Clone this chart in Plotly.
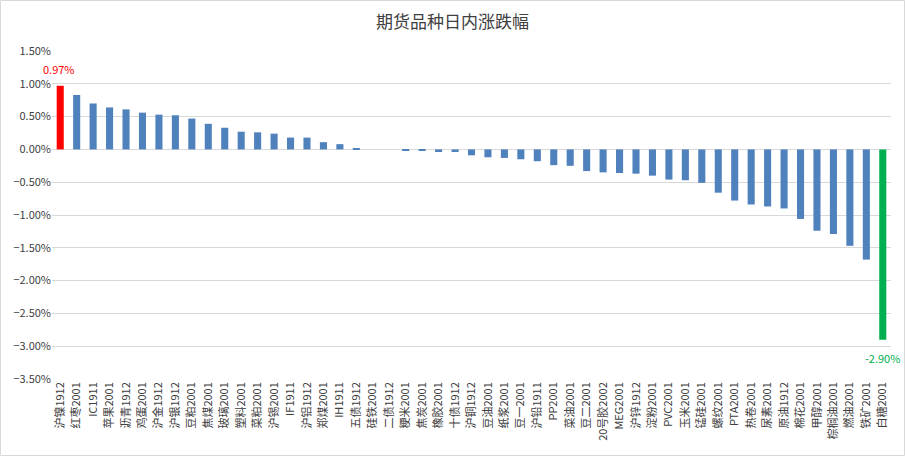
import plotly.graph_objects as go

categories = ["沪镍1912", "红枣2001", "IC1911", "苹果2001", "沥青1912", "鸡蛋2001", "沪金1912", "沪银1912",
              "豆粕2001", "焦煤2001", "玻璃2001", "塑料2001", "菜粕2001", "沪锡2001", "IF1911", "沪铝1912",
              "郑煤2001", "IH1911", "五债1912", "硅铁2001", "二债1912", "粳米2001", "焦炭2001", "橡胶2001",
              "十债1912", "沪铜1912", "豆油2001", "纸浆2001", "豆一2001", "沪铅1911", "PP2001", "菜油2001",
              "豆二2001", "20号胶2002", "MEG2001", "沪锌1912", "淀粉2001", "PVC2001", "玉米2001", "锰硅2001",
              "螺纹2001", "PTA2001", "热卷2001", "尿素2001", "原油1912", "棉花2001", "甲醇2001", "棕榈油2001",
              "燃油2001", "铁矿2001", "白糖2001"]

values_pct = [0.97, 0.83, 0.70, 0.64, 0.61, 0.56, 0.53, 0.52,
              0.47, 0.39, 0.33, 0.27, 0.26, 0.24, 0.18, 0.18,
              0.11, 0.08, 0.02, 0.00, 0.00, -0.02, -0.02, -0.04,
              -0.04, -0.09, -0.12, -0.13, -0.15, -0.18, -0.24, -0.25,
              -0.33, -0.35, -0.36, -0.37, -0.40, -0.46, -0.47, -0.51,
              -0.66, -0.78, -0.84, -0.87, -0.90, -1.06, -1.24, -1.29,
              -1.47, -1.68, -2.90]

values = [v / 100 for v in values_pct]
n = len(values)
imax = values.index(max(values))
imin = values.index(min(values))

colors = []
for i, v in enumerate(values):
    if i == imax:
        colors.append("#FF0000")
    elif i == imin:
        colors.append("#00B050")
    else:
        colors.append("#4F81BD")

fig = go.Figure(go.Bar(
    x=categories, y=values, marker=dict(color=colors, line=dict(width=0)),
    hoverinfo="x+y",
))

fig.add_annotation(x=categories[imax], y=values[imax], text=f"{values[imax]:.2%}",
                   showarrow=False, yanchor="bottom", yshift=7, xshift=-1,
                   font=dict(color="#FF0000", size=11, family="Noto Sans CJK SC"))
fig.add_annotation(x=categories[imin], y=values[imin], text=f"{values[imin]:.2%}",
                   showarrow=False, yanchor="top", yshift=-8,
                   font=dict(color="#00B050", size=11, family="Noto Sans CJK SC"))

W, H = 905, 456
ml, mr, mt, mb = 52, 14, 51, 77
pw, ph = W - ml - mr, H - mt - mb

fig.update_layout(
    width=W, height=H,
    margin=dict(l=ml, r=mr, t=mt, b=mb),
    paper_bgcolor="white", plot_bgcolor="white",
    bargap=0.57,
    showlegend=False,
    font=dict(family="Noto Sans CJK SC", size=11, color="#404040"),
    title=dict(text="期货品种日内涨跌幅", x=0.5, xanchor="center", y=1 - 22 / H, yanchor="middle",
               font=dict(size=17, color="#404040", family="Noto Sans CJK SC")),
    xaxis=dict(tickangle=-90, showgrid=False, showline=False, ticks="",
               range=[-0.5, n - 0.5],
               tickfont=dict(size=11, color="#404040"), automargin=False),
    yaxis=dict(range=[-0.035, 0.015], dtick=0.005, tickformat=".2%",
               showgrid=True, gridcolor="#D9D9D9", gridwidth=1,
               zeroline=True, zerolinecolor="#D9D9D9", zerolinewidth=1,
               showline=False, ticks="", tickfont=dict(size=11, color="#404040"),
               automargin=False),
)

fig.add_shape(type="rect", xref="paper", yref="paper",
              x0=(0.5 - ml) / pw, x1=(W - 0.5 - ml) / pw,
              y0=-(mb - 0.5) / ph, y1=1 + (mt - 0.5) / ph,
              line=dict(color="#D9D9D9", width=1), fillcolor="rgba(0,0,0,0)", layer="below")

fig.write_html("out.html", config={"displayModeBar": False},
               post_script="document.body.style.margin='0';document.body.style.overflow='hidden';")
